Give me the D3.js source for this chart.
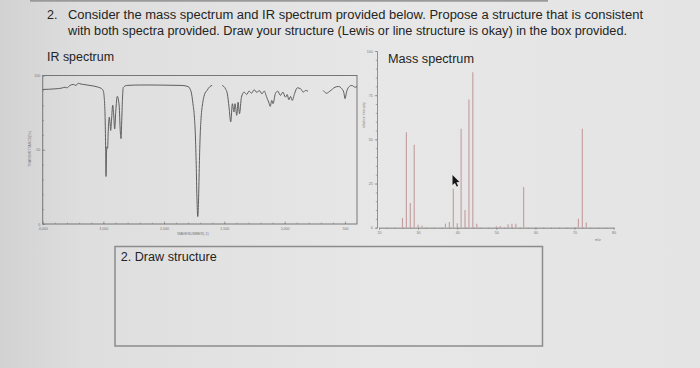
<!DOCTYPE html>
<html>
<head>
<meta charset="utf-8">
<script src="https://cdn.jsdelivr.net/npm/d3@7"></script>
<style>
body { margin: 0; background: #e4e4e4; }
svg { display: block; font-family: "Liberation Sans", Arial, sans-serif; }
</style>
</head>
<body>
<div id="chart"></div>
<script>
// IR trace: wavenumber (cm-1) and transmittance (%), null = gap in the trace
const irWave = [4000, 3800, 3687, 3632, 3604, 3550, 3495, 3451, 3413, 3385, 3300, 3220, 3083, 3027, 3000,
    2989, 2978, 2970, 2962, 2956, 2948, 2940, 2930, 2920, 2902, 2890, 2879, 2865, 2846, 2830, 2813, 2795,
    2770, 2740, 2720, 2709, 2698, 2685, 2671, 2615, 2400, 2200, 2000, 1850, 1800, 1775, 1760, 1748, 1740,
    1733, 1727, 1720, 1713, 1707, 1700, 1692, 1680, 1665, 1643, 1620, 1601,
    1560,
    1517, 1490, 1475, 1461, 1447, 1433, 1420, 1411, 1397, 1386, 1374, 1358, 1336, 1314, 1295, 1274, 1253,
    1230, 1211, 1188, 1169, 1149, 1132, 1119, 1107, 1096, 1077, 1057, 1035, 1015, 993, 979, 965, 951, 937,
    918, 895, 868, 845, 828, 806,
    740,
    680, 652, 624, 582, 554, 526, 510, 499, 487, 470, 443, 415, 400]
const irTrans = [90.6, 91, 91.5, 92.1, 91.7, 93.3, 94, 93.3, 94.8, 94.4, 93.8, 93.3, 92.1, 91.1, 89.5,
    86.6, 80, 70, 50, 32, 48, 52, 51, 62, 72, 68, 63, 70, 80, 74, 64, 76,
    86, 80, 62, 57.5, 68, 84, 92, 93.3, 93.6, 93.6, 93.5, 93.3, 92.5, 89, 81, 72, 60,
    40, 18, 5, 18, 40, 60, 72, 81, 87, 90, 92.5, 93.3,
    null,
    93.3, 91, 87.7, 78.7, 68.7, 81, 75.4, 81, 73.2, 82, 74.3, 85.4, 88.8, 87.2, 89.5, 88.1, 90.4,
    88.6, 89.9, 87.7, 89.5, 85.4, 82.1, 79.2, 83.2, 81, 87.7, 89.5, 86.6, 88.8, 85.4, 87.2, 83.7, 85.9, 83.2,
    87.7, 91.7, 91.1, 88.8, 89.9, 89.5,
    null,
    89.9, 88.1, 89.5, 92.1, 92.6, 91.1, 88.8, 84.4, 88.8, 92.1, 93.3, 92.1, 92.6]
const irXTicks = [4000, 3000, 2000, 1500, 1000, 500]
const irYTicks = [0, 50, 100]

// mass spectrum: m/z and relative intensity
const msMz = [26, 27, 28, 29, 30, 31, 37, 38, 39, 40, 41, 42, 43, 44, 45, 50, 51, 53, 54, 55, 57, 71, 72, 73]
const msInt = [5.5, 54, 14, 47, 1.7, 1.2, 2.3, 3.2, 22, 2.5, 56, 10, 72.5, 88, 2.3, 0.8, 1, 2, 2.2, 2.2, 23, 5, 56, 3]
const msXTicks = [20, 30, 40, 50, 60, 70, 80]
const msYTicks = [0, 25, 50, 75, 100]

const width = 700
const height = 368

const svg = d3.select("#chart")
    .append("svg")
    .attr("width", width)
    .attr("height", height)

// paper background, darker on the left like the photo
const grad = svg.append("defs").append("linearGradient").attr("id", "bg")
grad.selectAll("stop")
    .data([[0, "#d2d2d2"], [0.12, "#dedede"], [0.55, "#e7e7e7"], [1, "#e4e4e4"]])
    .enter().append("stop")
    .attr("offset", d => d[0])
    .attr("stop-color", d => d[1])
svg.append("rect").attr("width", width).attr("height", height).attr("fill", "url(#bg)")

// edge of the box above
svg.append("line").attr("x1", 30).attr("x2", 548).attr("y1", 0.8).attr("y2", 0.8)
    .attr("stroke", "#9a9a9a").attr("stroke-width", 2)

// question text
const txt = svg.append("g").attr("fill", "#242424").attr("font-size", 12.5)
txt.append("text").attr("x", 47).attr("y", 18.5).text("2.")
txt.append("text").attr("x", 68).attr("y", 18.5)
    .attr("textLength", 575).attr("lengthAdjust", "spacingAndGlyphs")
    .text("Consider the mass spectrum and IR spectrum provided below. Propose a structure that is consistent")
txt.append("text").attr("x", 68).attr("y", 34.8)
    .attr("textLength", 559).attr("lengthAdjust", "spacingAndGlyphs")
    .text("with both spectra provided. Draw your structure (Lewis or line structure is okay) in the box provided.")
txt.append("text").attr("x", 47).attr("y", 61)
    .attr("textLength", 67).attr("lengthAdjust", "spacingAndGlyphs")
    .text("IR spectrum")
txt.append("text").attr("x", 388).attr("y", 62.5)
    .attr("textLength", 86).attr("lengthAdjust", "spacingAndGlyphs")
    .text("Mass spectrum")

// ---------- IR spectrum ----------
const irX = d3.scaleLinear().domain([4000, 2000, 400]).range([42.7, 164, 357])
const irY = d3.scaleLinear().domain([0, 100]).range([224, 75.5])

const irGroup = svg.append("g").attr("id", "ir")

const irXMinor = d3.range(4000, 2000, -200).concat(d3.range(2000, 400, -100))
irGroup.append("g")
    .attr("transform", `translate(0, ${irY(0)})`)
    .call(d3.axisBottom(irX).tickValues(irXMinor).tickSize(-1.3).tickFormat(""))
irGroup.append("g")
    .attr("transform", `translate(0, ${irY(0)})`)
    .call(d3.axisBottom(irX).tickValues(irXTicks).tickSize(-2.5).tickPadding(3.5))
irGroup.append("g")
    .attr("transform", `translate(${irX(4000)}, 0)`)
    .call(d3.axisLeft(irY).tickValues(d3.range(0, 101, 10)).tickSize(-1.3).tickFormat(""))
irGroup.append("g")
    .attr("transform", `translate(${irX(4000)}, 0)`)
    .call(d3.axisLeft(irY).tickValues(irYTicks).tickSize(-2.5).tickPadding(2.5))
irGroup.selectAll(".domain").remove()

irGroup.append("rect")
    .attr("x", irX(4000)).attr("y", irY(100))
    .attr("width", irX(400) - irX(4000)).attr("height", irY(0) - irY(100))
    .attr("fill", "none").attr("stroke", "#767676").attr("stroke-width", 1)

irGroup.append("text").attr("x", 193).attr("y", 235).attr("text-anchor", "middle")
    .attr("font-size", 3.6).attr("fill", "#777").text("WAVENUMBER(-1)")
irGroup.append("text").attr("transform", "translate(31, 149) rotate(-90)").attr("text-anchor", "middle")
    .attr("font-size", 3.6).attr("fill", "#777").text("TRANSMITTANCE(%)")

const irData = irWave.map((w, i) => ({ w: w, t: irTrans[i] }))
irGroup.append("path")
    .datum(irData)
    .attr("fill", "none")
    .attr("stroke", "#5e5e5e")
    .attr("stroke-width", 1)
    .attr("d", d3.line()
        .defined(d => d.t !== null)
        .x(d => irX(d.w))
        .y(d => irY(d.t))
        .curve(d3.curveMonotoneX))

// ---------- Mass spectrum ----------
const msX = d3.scaleLinear().domain([20, 80]).range([379, 613.6])
const msY = d3.scaleLinear().domain([0, 100]).range([227.7, 51])

const msGroup = svg.append("g").attr("id", "ms")

msGroup.append("g")
    .attr("transform", `translate(0, ${msY(0)})`)
    .call(d3.axisBottom(msX).tickValues(d3.range(20, 81, 2)).tickSize(1.2).tickFormat(""))
msGroup.append("g")
    .attr("transform", `translate(0, ${msY(0)})`)
    .call(d3.axisBottom(msX).tickValues(msXTicks).tickSize(2.2).tickPadding(2).tickSizeOuter(0))
msGroup.append("g")
    .attr("transform", `translate(${msX(20) - 2}, 0)`)
    .call(d3.axisLeft(msY).tickValues(d3.range(0, 101, 5)).tickSize(1.2).tickFormat(""))
msGroup.append("g")
    .attr("transform", `translate(${msX(20) - 2}, 0)`)
    .call(d3.axisLeft(msY).tickValues(msYTicks).tickSize(2.2).tickPadding(2).tickSizeOuter(0))

msGroup.append("text").attr("x", 598).attr("y", 240.5).attr("text-anchor", "middle")
    .attr("font-size", 3.6).attr("fill", "#777").text("m/z")
msGroup.append("text").attr("transform", "translate(365, 115) rotate(-90)").attr("text-anchor", "middle")
    .attr("font-size", 3.6).attr("fill", "#777").text("relative intensity")

msGroup.selectAll(".bar")
    .data(msMz.map((m, i) => ({ m: m, v: msInt[i] })))
    .enter()
    .append("line")
    .attr("class", "bar")
    .attr("x1", d => msX(d.m)).attr("x2", d => msX(d.m))
    .attr("y1", msY(0)).attr("y2", d => msY(d.v))
    .attr("stroke", "#c29c9e")
    .attr("stroke-width", 1.1)

// style all axes alike
svg.selectAll(".tick line, .domain").attr("stroke", "#8a8a8a").attr("stroke-width", 0.7)
svg.selectAll(".tick text").attr("font-size", 3.6).attr("fill", "#777")

// mouse pointer caught in the photo
svg.append("path")
    .attr("transform", "translate(452.5, 175)")
    .attr("d", "M0,0 L0,10 L2.4,7.9 L4.2,11.6 L5.6,10.9 L3.9,7.3 L7,7.1 Z")
    .attr("fill", "#161616")

// answer box
svg.append("rect")
    .attr("x", 115).attr("y", 246.5).attr("width", 427.5).attr("height", 99.5)
    .attr("fill", "none").attr("stroke", "#8c8c8c").attr("stroke-width", 1.5)
txt.append("text").attr("x", 120.7).attr("y", 260.7)
    .attr("textLength", 96).attr("lengthAdjust", "spacingAndGlyphs")
    .text("2. Draw structure")
</script>
</body>
</html>
